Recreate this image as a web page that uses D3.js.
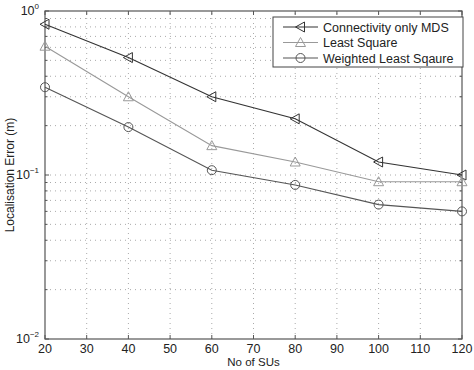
<!DOCTYPE html>
<html>
<head>
<meta charset="utf-8">
<script src="https://cdn.jsdelivr.net/npm/d3@7"></script>
<style>
  body { margin: 0; background: #fff; }
  text { font-family: "Liberation Sans", Arial, sans-serif; fill: #222; }
</style>
</head>
<body>
<main></main>
<script>
// Data
const suCounts = [20, 40, 60, 80, 100, 120];
const mdsError = [0.83, 0.52, 0.30, 0.22, 0.12, 0.10];
const lsError = [0.61, 0.30, 0.151, 0.12, 0.091, 0.091];
const wlsError = [0.343, 0.196, 0.107, 0.087, 0.066, 0.060];
const seriesNames = ['Connectivity only MDS', 'Least Square', 'Weighted Least Sqaure'];
const xTicks = [20, 30, 40, 50, 60, 70, 80, 90, 100, 110, 120];
const yDecades = [-2, -1, 0];

const width = 474, height = 370;
const margin = {top: 11, right: 12, bottom: 31, left: 45};

const svg = d3.select('main').append('svg')
    .attr('width', width)
    .attr('height', height);

const x = d3.scaleLinear().domain([20, 120]).range([margin.left, width - margin.right]);
const y = d3.scaleLog().domain([0.01, 1]).range([height - margin.bottom, margin.top]);

const x0 = x.range()[0], x1 = x.range()[1];
const y0 = y.range()[0], y1 = y.range()[1];

// Dotted grid
const minorY = [];
[0.01, 0.1].forEach(d => { for (let k = 1; k < 10; k++) minorY.push(d * k); });
minorY.push(1);

svg.append('g').selectAll('line')
    .data(minorY.filter(v => v > 0.01 && v < 1))
    .enter().append('line')
    .attr('x1', x0).attr('x2', x1)
    .attr('y1', d => y(d)).attr('y2', d => y(d))
    .attr('stroke', '#aaa')
    .attr('stroke-width', 1)
    .attr('stroke-dasharray', '1,4');

svg.append('g').selectAll('line')
    .data(xTicks.slice(1, -1))
    .enter().append('line')
    .attr('x1', d => x(d)).attr('x2', d => x(d))
    .attr('y1', y0).attr('y2', y1)
    .attr('stroke', '#aaa')
    .attr('stroke-width', 1)
    .attr('stroke-dasharray', '1,4');

// Frame
svg.append('rect')
    .attr('x', x0).attr('y', y1)
    .attr('width', x1 - x0).attr('height', y0 - y1)
    .attr('fill', 'none')
    .attr('stroke', '#555')
    .attr('stroke-width', 1.2);

// Inside ticks
const tickLen = 4;
xTicks.forEach(t => {
    svg.append('line').attr('x1', x(t)).attr('x2', x(t)).attr('y1', y0).attr('y2', y0 - tickLen).attr('stroke', '#555');
    svg.append('line').attr('x1', x(t)).attr('x2', x(t)).attr('y1', y1).attr('y2', y1 + tickLen).attr('stroke', '#555');
});
minorY.forEach(v => {
    const isMajor = Math.abs(Math.log10(v) - Math.round(Math.log10(v))) < 1e-9;
    const len = isMajor ? tickLen : 2.5;
    svg.append('line').attr('x1', x0).attr('x2', x0 + len).attr('y1', y(v)).attr('y2', y(v)).attr('stroke', '#555');
    svg.append('line').attr('x1', x1).attr('x2', x1 - len).attr('y1', y(v)).attr('y2', y(v)).attr('stroke', '#555');
});

// Tick labels
svg.append('g').selectAll('text')
    .data(xTicks)
    .enter().append('text')
    .attr('x', d => x(d))
    .attr('y', y0 + 14)
    .attr('text-anchor', 'middle')
    .attr('font-size', 12.5)
    .text(d => d);

yDecades.forEach(p => {
    const t = svg.append('text')
        .attr('x', x0 - 6)
        .attr('y', y(Math.pow(10, p)) + 4)
        .attr('text-anchor', 'end')
        .attr('font-size', 12.5);
    t.append('tspan').text('10');
    t.append('tspan').attr('dy', -6).attr('font-size', 8).text(p === 0 ? '0' : '\u2212' + (-p));
});

// Axis labels
svg.append('text')
    .attr('x', (x0 + x1) / 2)
    .attr('y', height - 4)
    .attr('text-anchor', 'middle')
    .attr('font-size', 11.5)
    .text('No of SUs');

svg.append('text')
    .attr('transform', `translate(14,${(y0 + y1) / 2}) rotate(-90)`)
    .attr('text-anchor', 'middle')
    .attr('font-size', 12)
    .text('Localisation Error (m)');

// Series
const line = d3.line()
    .x(d => x(d[0]))
    .y(d => y(d[1]));

const series = [
    {name: seriesNames[0], values: mdsError, color: '#333', marker: 'left'},
    {name: seriesNames[1], values: lsError, color: '#999', marker: 'up'},
    {name: seriesNames[2], values: wlsError, color: '#555', marker: 'circle'}
];

function drawMarker(g, type, cx, cy, color) {
    const r = 5;
    if (type === 'circle') {
        g.append('circle').attr('cx', cx).attr('cy', cy).attr('r', 4.5)
            .attr('fill', 'none').attr('stroke', color).attr('stroke-width', 1);
    } else if (type === 'up') {
        g.append('path')
            .attr('d', `M${cx},${cy - r}L${cx + r},${cy + r * 0.8}L${cx - r},${cy + r * 0.8}Z`)
            .attr('fill', 'none').attr('stroke', color).attr('stroke-width', 1);
    } else {
        g.append('path')
            .attr('d', `M${cx - r},${cy}L${cx + r * 0.8},${cy - r}L${cx + r * 0.8},${cy + r}Z`)
            .attr('fill', 'none').attr('stroke', color).attr('stroke-width', 1);
    }
}

series.forEach(s => {
    const pts = suCounts.map((c, i) => [c, s.values[i]]);
    svg.append('path')
        .datum(pts)
        .attr('fill', 'none')
        .attr('stroke', s.color)
        .attr('stroke-width', 1.1)
        .attr('d', line);
    const g = svg.append('g');
    pts.forEach(p => drawMarker(g, s.marker, x(p[0]), y(p[1]), s.color));
});

// Legend
const lg = svg.append('g');
const lx = 273, ly = 17, lw = 190, lh = 50;
lg.append('rect')
    .attr('x', lx).attr('y', ly).attr('width', lw).attr('height', lh)
    .attr('fill', '#fff').attr('stroke', '#444').attr('stroke-width', 1);
series.forEach((s, i) => {
    const cy = ly + 10 + i * 15.5;
    lg.append('line')
        .attr('x1', lx + 10).attr('x2', lx + 45)
        .attr('y1', cy).attr('y2', cy)
        .attr('stroke', s.color).attr('stroke-width', 1.1);
    drawMarker(lg, s.marker, lx + 27.5, cy, s.color);
    lg.append('text')
        .attr('x', lx + 50)
        .attr('y', cy + 4.5)
        .attr('font-size', 12.5)
        .text(s.name);
});
</script>
</body>
</html>
